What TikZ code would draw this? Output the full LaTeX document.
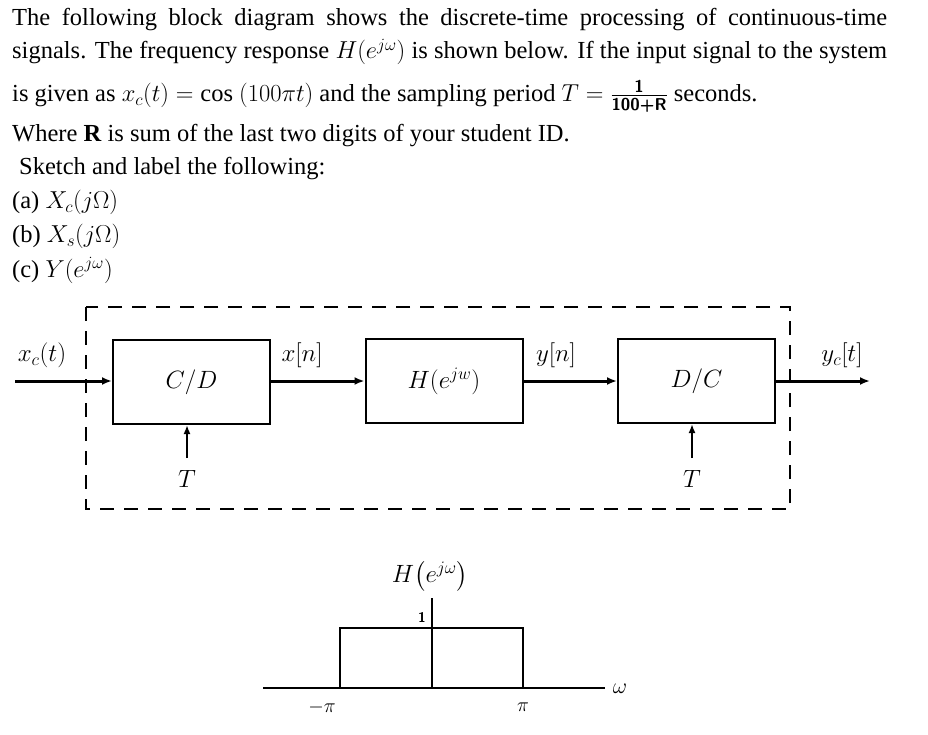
\RequirePackage{fix-cm}
\documentclass[tikz,border=0pt]{standalone}
\usepackage{amsmath}
\usepackage{fontspec}
\setmainfont{Liberation Serif}
\usetikzlibrary{arrows.meta}
\begin{document}
\begin{tikzpicture}[x=1pt,y=-1pt,
  txt/.style={anchor=base west,inner sep=0pt,font=\fontsize{24.5}{28}\selectfont},
  blk/.style={draw,line width=2pt,minimum width=157pt,minimum height=84pt,inner sep=0pt,font=\fontsize{25}{29}\selectfont},
  sig/.style={line width=3pt,-{Latex[length=10pt,width=8pt]}},
  lab/.style={inner sep=0pt,font=\fontsize{25}{29}\selectfont},
  ax/.style={line width=2pt}]
\useasboundingbox (0,0) rectangle (928,735);
% problem text
\node[txt] (l1) at (12,26) {\makebox[875pt][s]{The following block diagram shows the discrete-time processing of continuous-time}};
\node[txt] (l2) at (12,59) {\makebox[875pt][s]{signals. The frequency response $H(e^{j\omega})$ is shown below. If the input signal to the system}};
\node[txt] (l3) at (12,102) {is given as $x_c(t) = \cos\ (100\pi t)$ and the sampling period $T = \frac{\textsf{\textbf{1}}}{\textsf{\textbf{100+R}}}$ seconds.};
\node[txt] (l4) at (12,142) {Where \textbf{R} is sum of the last two digits of your student ID.};
\node[txt] (l5) at (19,175) {Sketch and label the following:};
\node[txt] (l6) at (12,209) {(a) $X_c(j\Omega)$};
\node[txt] (l7) at (12,243) {(b) $X_s(j\Omega)$};
\node[txt] (l8) at (12,277) {(c) $Y(e^{j\omega})$};
% block diagram
\draw[line width=2.6pt,dash pattern=on 14pt off 10pt] (86,307) rectangle (790,509);
\node[blk] (cd) at (191.5,382) {$C/D$};
\node[blk] (h) at (444,381) {$H(e^{jw})$};
\node[blk] (dc) at (696.5,381) {$D/C$};
\coordinate (in) at (15,381);
\coordinate (out) at (870,381);
\coordinate (t1) at (187,458);
\coordinate (t2) at (692,458);
\draw[sig] (in) -- (cd.west |- in);
\draw[sig] (cd.east |- h.west) -- (h.west);
\draw[sig] (h.east) -- (dc.west);
\draw[sig] (dc.east) -- (out);
\draw[line width=2pt,-{Latex[length=9pt,width=7pt]}] (t1) -- (t1 |- cd.south);
\draw[line width=2pt,-{Latex[length=9pt,width=7pt]}] (t2) -- (t2 |- dc.south);
\node[lab] (xc) at (42,355) {$x_c(t)$};
\node[lab] (xn) at (302,355) {$x[n]$};
\node[lab] (yn) at (556,355) {$y[n]$};
\node[lab] (yc) at (842,355) {$y_c[t]$};
\node[lab] (T1) at (187,479) {$T$};
\node[lab] (T2) at (692,479) {$T$};
% frequency response
\coordinate (w0) at (263,688);
\coordinate (w1) at (605,688);
\coordinate (o) at (432,688);
\coordinate (otop) at (432,598);
\draw[ax] (w0) -- (w1);
\draw[ax] (o) -- (otop);
\draw[ax] (340,688) -- (340,628) -- (523,628) -- (523,688);
\node[lab] (hl) at (430,576) {$H\big(e^{j\omega}\big)$};
\node[inner sep=0pt,font=\sffamily\bfseries\fontsize{14}{16}\selectfont] (one) at (422,617) {1};
\node[inner sep=0pt,font=\fontsize{20}{22}\selectfont] (mpi) at (322,707) {$-\pi$};
\node[inner sep=0pt,font=\fontsize{20}{22}\selectfont] (ppi) at (523,707) {$\pi$};
\node[inner sep=0pt,font=\fontsize{22}{24}\selectfont] (om) at (620,689) {$\omega$};
\end{tikzpicture}
\end{document}
